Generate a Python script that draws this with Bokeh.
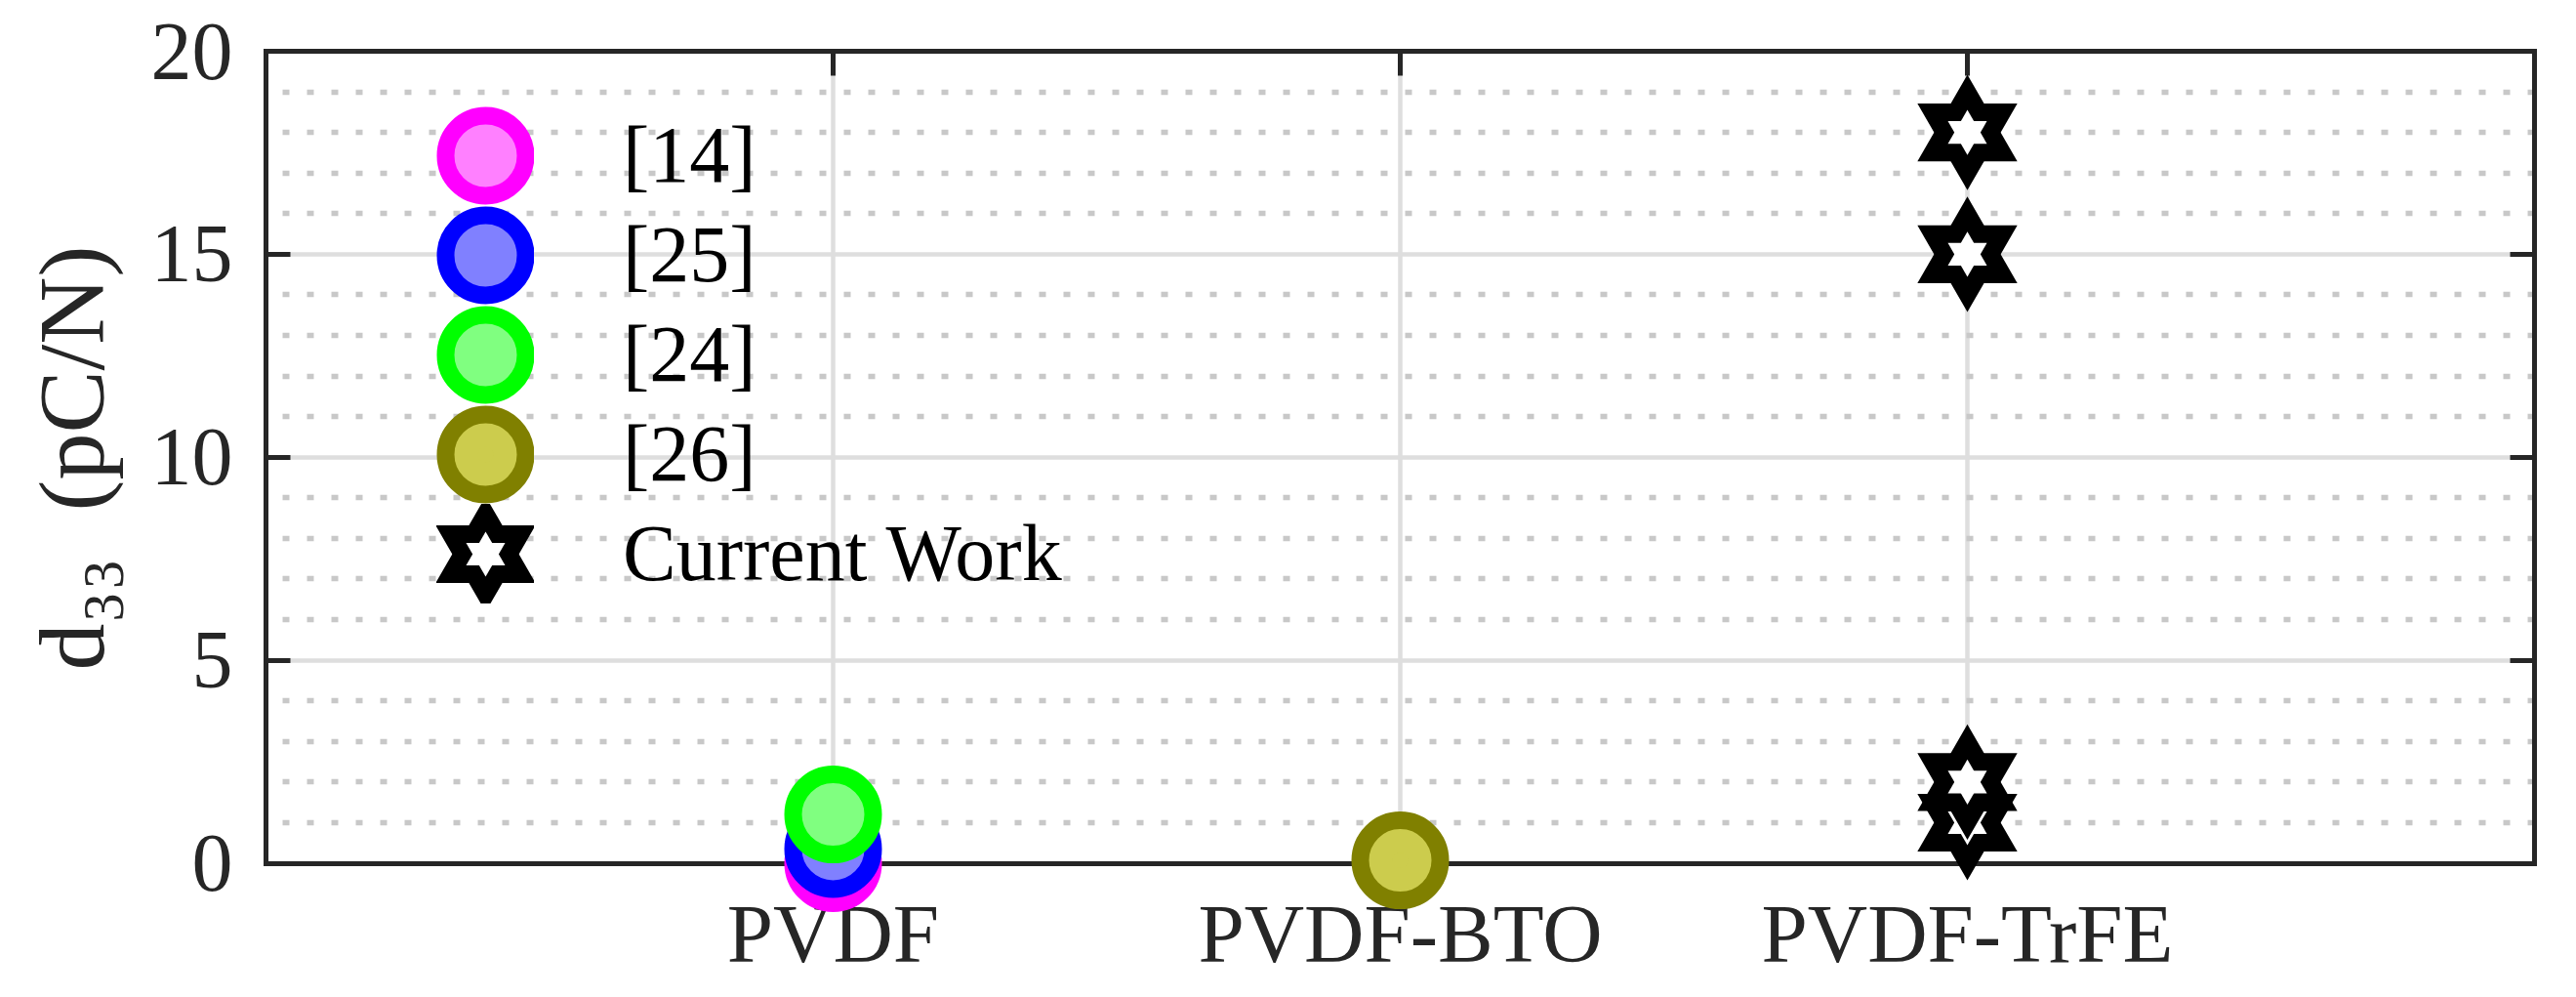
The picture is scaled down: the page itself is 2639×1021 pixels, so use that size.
from bokeh.plotting import figure
from bokeh.models import (FactorRange, Range1d, FixedTicker, LinearAxis, CategoricalAxis,
                          Legend, LegendItem, BoxAnnotation)
from bokeh.embed import file_html
from bokeh.resources import INLINE

# ---------------- data ----------------
categories = ["PVDF", "PVDF-BTO", "PVDF-TrFE"]

ref_labels = ["[14]", "[25]", "[24]", "[26]"]
ref_category = ["PVDF", "PVDF", "PVDF", "PVDF-BTO"]
ref_d33 = [0.0, 0.35, 1.2, 0.07]
ref_edge = ["#FF00FF", "#0000FF", "#00FF00", "#808000"]
ref_face = ["#FF80FF", "#8080FF", "#80FF80", "#CCCC4D"]

current_label = "Current Work"
current_category = "PVDF-TrFE"
current_d33 = [1.0, 2.0, 15.0, 18.0]

y_ticks = [0, 5, 10, 15, 20]
y_minor = [1, 2, 3, 4, 6, 7, 8, 9, 11, 12, 13, 14, 16, 17, 18, 19]
y_label = "d\u2083\u2083\u2002(pC/N)"

FONT = "Liberation Serif"
AX = "#262626"

# ---------------- figure ----------------
PX_PER_UNIT = 41.575
FRAME_H = 953
p = figure(
    x_range=FactorRange(factors=categories, range_padding=0.5, range_padding_units="absolute"),
    y_range=Range1d(y_ticks[-1] - FRAME_H / PX_PER_UNIT, y_ticks[-1]),
    frame_width=2324, frame_height=FRAME_H,
    min_border_left=272, min_border_right=27, min_border_top=52, min_border_bottom=0,
    output_backend="svg", toolbar_location=None,
)
p.outline_line_color = None
p.background_fill_color = "white"
p.border_fill_color = "white"

ticker = FixedTicker(ticks=y_ticks, minor_ticks=y_minor)

# bottom axis (at y = 0)
xa = p.xaxis[0]
xa.fixed_location = y_ticks[0]
xa.axis_line_color = AX
xa.axis_line_width = 5
xa.axis_line_cap = "square"
xa.major_tick_in = 25
xa.major_tick_out = 0
xa.major_tick_line_color = AX
xa.major_tick_line_width = 5
xa.major_label_text_font = FONT
xa.major_label_text_font_size = "85px"
xa.major_label_text_color = AX
xa.major_label_standoff = 25

# left axis
ya = p.yaxis[0]
ya.ticker = ticker
ya.bounds = (y_ticks[0], y_ticks[-1])
ya.axis_line_color = AX
ya.axis_line_width = 5
ya.axis_line_cap = "square"
ya.major_tick_in = 25
ya.major_tick_out = 0
ya.minor_tick_in = 0
ya.minor_tick_out = 0
ya.major_tick_line_color = AX
ya.major_tick_line_width = 5
ya.major_label_text_font = FONT
ya.major_label_text_font_size = "84px"
ya.major_label_text_color = AX
ya.major_label_standoff = 34
# leading fixed-width spaces lift the centred title onto the middle of the 0..20 span
ya.axis_label = "\u2002\u2002\u00a0" + y_label
ya.axis_label_text_font = FONT
ya.axis_label_text_font_size = "96px"
ya.axis_label_text_font_style = "normal"
ya.axis_label_text_color = AX
ya.axis_label_standoff = 25

# top axis (ticks only)
ta = CategoricalAxis()
ta.axis_line_color = AX
ta.axis_line_width = 5
ta.axis_line_cap = "square"
ta.major_tick_in = 25
ta.major_tick_out = 0
ta.major_tick_line_color = AX
ta.major_tick_line_width = 5
ta.major_label_text_font_size = "0px"
ta.major_label_text_color = None
ta.major_label_standoff = 0
p.add_layout(ta, "above")

# right axis (ticks only)
ra = LinearAxis(ticker=ticker, bounds=(y_ticks[0], y_ticks[-1]))
ra.axis_line_color = AX
ra.axis_line_width = 5
ra.axis_line_cap = "square"
ra.major_tick_in = 25
ra.major_tick_out = 0
ra.minor_tick_in = 0
ra.minor_tick_out = 0
ra.major_tick_line_color = AX
ra.major_tick_line_width = 5
ra.major_label_text_font_size = "0px"
ra.major_label_text_color = None
ra.major_label_standoff = 0
p.add_layout(ra, "right")

# grids
p.ygrid.ticker = ticker
p.ygrid.grid_line_color = "#DEDEDE"
p.ygrid.grid_line_width = 4.5
p.ygrid.minor_grid_line_color = "#C8C8C8"
p.ygrid.minor_grid_line_width = 5.5
p.ygrid.minor_grid_line_dash = "7 18"
p.ygrid.minor_grid_line_dash_offset = 8
p.xgrid.grid_line_color = "#DEDEDE"
p.xgrid.grid_line_width = 4.5

# mask grid below y = 0
p.add_layout(BoxAnnotation(top=y_ticks[0], fill_color="white", fill_alpha=1.0,
                           line_color=None, level="underlay"))

# ---------------- markers ----------------
MS = 40  # base marker size (legend draws markers at 0.4 * min(glyph_width, glyph_height))
legend_items = []
for lab, cat, val, ec, fc in zip(ref_labels, ref_category, ref_d33, ref_edge, ref_face):
    outer = p.scatter(x=[cat], y=[val], marker="circle", size=MS,
                      fill_color=ec, line_color=ec, line_width=60, level="overlay")
    inner = p.scatter(x=[cat], y=[val], marker="circle", size=MS,
                      fill_color=fc, line_color=fc, line_width=24, level="overlay")
    legend_items.append(LegendItem(label=lab, renderers=[outer, inner]))

star_sets = []
for v in current_d33:
    rs = []
    for mk in ("triangle", "inverted_triangle"):
        rs.append(p.scatter(x=[current_category], y=[v], marker=mk, size=MS,
                            fill_color="black", line_color="black", line_width=36,
                            line_join="miter", level="overlay"))
    for mk in ("triangle", "inverted_triangle"):
        rs.append(p.scatter(x=[current_category], y=[v], marker=mk, size=MS,
                            fill_color="white", line_color=None, level="overlay"))
    star_sets.append(rs)
legend_items.append(LegendItem(label=current_label, renderers=star_sets[0]))

legend = Legend(items=legend_items, location=(175, 387),
                glyph_width=100, glyph_height=102, label_height=102,
                spacing=0, padding=0, margin=0, label_standoff=91,
                label_text_font=FONT, label_text_font_size="82px",
                label_text_color="black",
                border_line_color=None, background_fill_alpha=0)
p.add_layout(legend)

open("out.html", "w").write(file_html(p, INLINE))
